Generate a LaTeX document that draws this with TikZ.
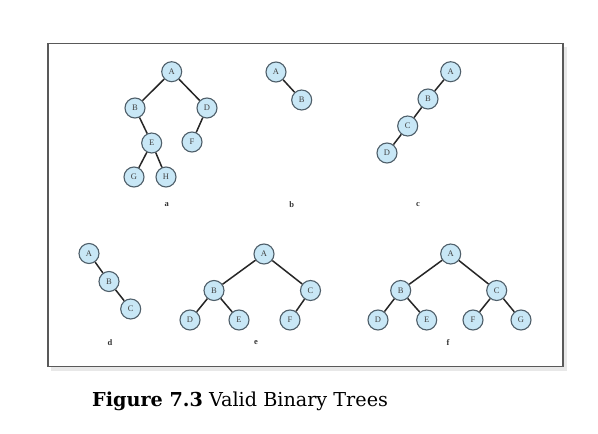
\documentclass[tikz,border=0pt]{standalone}
\usepackage{fontspec}
\setmainfont{Liberation Serif}
\newfontfamily\capfont{DejaVu Serif}
\begin{document}
\begin{tikzpicture}[x=1pt,y=-1pt,
  tn/.style={circle,draw=nodeedge,fill=nodefill,line width=1.1pt,minimum size=20pt,inner sep=0pt,font=\fontsize{8.5}{9}\selectfont,text=black!75},
  ed/.style={line width=1.5pt,draw=black!85},
  lab/.style={font=\fontsize{8.5}{9}\selectfont\bfseries,text=black!80}]
\definecolor{nodefill}{HTML}{C8E7F6}
\definecolor{nodeedge}{HTML}{4F5F6A}
\useasboundingbox (0,0) rectangle (598,434);
\fill[white] (0,0) rectangle (598,434);
% shadow & frame
\fill[black!9] (51,47) rectangle (567,371);
\fill[white] (48,43.5) rectangle (563,366.5);
\draw[line width=1.4pt,draw=black!65] (48,43.5) rectangle (563,366.5);
% tree a
\node[tn] (aA) at (171.7,71.7) {A};
\node[tn] (aB) at (135,108) {B};
\node[tn] (aD) at (207,108) {D};
\node[tn] (aE) at (151.7,143) {E};
\node[tn] (aF) at (192,142) {F};
\node[tn] (aG) at (134,177) {G};
\node[tn] (aH) at (166,177) {H};
\draw[ed] (aA)--(aB); \draw[ed] (aA)--(aD); \draw[ed] (aB)--(aE);
\draw[ed] (aD)--(aF); \draw[ed] (aE)--(aG); \draw[ed] (aE)--(aH);
\node[lab] (la) at (166.7,205) {a};
% tree b
\node[tn] (bA) at (276,72) {A};
\node[tn] (bB) at (301.7,100) {B};
\draw[ed] (bA)--(bB);
\node[lab] (lb) at (291.7,205) {b};
% tree c
\node[tn] (cA) at (450.7,71.7) {A};
\node[tn] (cB) at (428,99) {B};
\node[tn] (cC) at (407.7,126) {C};
\node[tn] (cD) at (387,153) {D};
\draw[ed] (cA)--(cB); \draw[ed] (cB)--(cC); \draw[ed] (cC)--(cD);
\node[lab] (lc) at (418,205) {c};
% tree d
\node[tn] (dA) at (89,253.5) {A};
\node[tn] (dB) at (109,281.5) {B};
\node[tn] (dC) at (130.7,309) {C};
\draw[ed] (dA)--(dB); \draw[ed] (dB)--(dC);
\node[lab] (ld) at (110,343) {d};
% tree e
\node[tn] (eA) at (264,254) {A};
\node[tn] (eB) at (214,290.5) {B};
\node[tn] (eC) at (310.5,290.5) {C};
\node[tn] (eD) at (190,320) {D};
\node[tn] (eE) at (239,320) {E};
\node[tn] (eF) at (290,320) {F};
\draw[ed] (eA)--(eB); \draw[ed] (eA)--(eC); \draw[ed] (eB)--(eD);
\draw[ed] (eB)--(eE); \draw[ed] (eC)--(eF);
\node[lab] (le) at (256,343) {e};
% tree f
\node[tn] (fA) at (450.7,254) {A};
\node[tn] (fB) at (400.7,290.5) {B};
\node[tn] (fC) at (496.7,290.5) {C};
\node[tn] (fD) at (378,320) {D};
\node[tn] (fE) at (426.7,320) {E};
\node[tn] (fF) at (473,320) {F};
\node[tn] (fG) at (521,320) {G};
\draw[ed] (fA)--(fB); \draw[ed] (fA)--(fC); \draw[ed] (fB)--(fD);
\draw[ed] (fB)--(fE); \draw[ed] (fC)--(fF); \draw[ed] (fC)--(fG);
\node[lab] (lf) at (448,343) {f};
% caption
\node[anchor=base west,inner sep=0pt,font=\capfont\fontsize{19.2}{22}\selectfont] (cap) at (92,406) {\textbf{Figure 7.3} Valid Binary Trees};
\end{tikzpicture}
\end{document}
